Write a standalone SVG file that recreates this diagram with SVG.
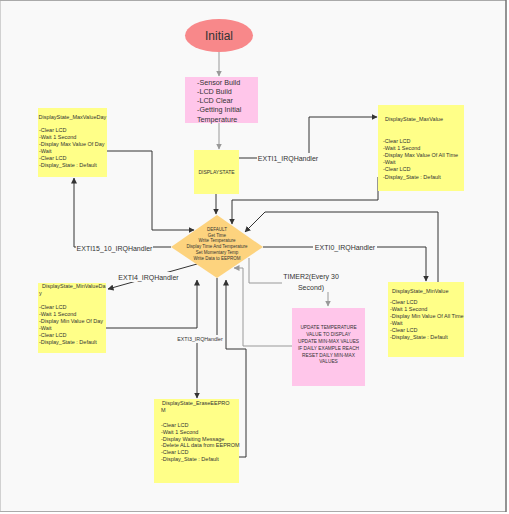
<svg xmlns="http://www.w3.org/2000/svg" width="509" height="514" viewBox="0 0 509 514">
<style>
text{font-family:"Liberation Sans",Arial,sans-serif;fill:#333}
.c{fill:none;stroke:#333;stroke-width:1}
.g{fill:none;stroke:#999;stroke-width:1}
.y{fill:#ffff88}
.p{fill:#ffc6ea}
.bt{font-size:5.5px}
.lb{font-size:7px;fill:#333}
.bg{fill:#f9f9f9}
</style>
<defs>
<marker id="a" markerUnits="userSpaceOnUse" markerWidth="6" markerHeight="6" refX="5.5" refY="3" orient="auto"><path d="M0,0 L6,3 L0,6 z" fill="#333"/></marker>
<marker id="ag" markerUnits="userSpaceOnUse" markerWidth="6" markerHeight="6" refX="5.5" refY="3" orient="auto"><path d="M0,0 L6,3 L0,6 z" fill="#999"/></marker>
</defs>
<rect x="0" y="0.5" width="506" height="511" fill="#f9f9f9" stroke="#aaa"/>
<line x1="506" y1="0" x2="506" y2="512" stroke="#555"/>

<g id="connectors">
<path class="g" d="M219,52 V76" marker-end="url(#ag)"/>
<path class="g" d="M219,123 V149" marker-end="url(#ag)"/>
<path class="c" d="M216,194 V214" marker-end="url(#a)"/>
<path class="c" d="M239,158 H309 V117 H377" marker-end="url(#a)"/>
<path class="c" d="M378,177 V200 H232 V224" marker-end="url(#a)"/>
<path class="c" d="M438,282 V212 H265 L245,232" marker-end="url(#a)"/>
<path class="c" d="M263,247 H426 V281" marker-end="url(#a)"/>
<path class="c" d="M107,151 H152 V230 H194" marker-end="url(#a)"/>
<path class="c" d="M171,247 H74 V178" marker-end="url(#a)"/>
<path class="c" d="M197,264 L108,289" marker-end="url(#a)"/>
<path class="c" d="M106,328 H197 V280" marker-end="url(#a)"/>
<path class="c" d="M217,278 V339 H197 V398" marker-end="url(#a)"/>
<path class="c" d="M239,457 H246 V349 H226 V280" marker-end="url(#a)"/>
<path class="g" d="M249,258 V283 H282"/>
<path class="g" d="M328,292 V306" marker-end="url(#ag)"/>
<path class="g" d="M292,346 H243 V268 H234" marker-end="url(#ag)"/>
<rect class="bg" x="257" y="153" width="62" height="10"/>
<text class="lb" x="288" y="160.5" text-anchor="middle">EXTI1_IRQHandler</text>
<rect class="bg" x="313" y="242" width="64" height="10"/>
<text class="lb" x="345" y="249.5" text-anchor="middle">EXTI0_IRQHandler</text>
<rect class="bg" x="76" y="243" width="77" height="10"/>
<text class="lb" x="114.5" y="250.5" text-anchor="middle">EXTI15_10_IRQHandler</text>
<rect class="bg" x="118" y="272" width="61" height="10"/>
<text class="lb" x="148.5" y="279.5" text-anchor="middle">EXTI4_IRQHandler</text>
<rect class="bg" x="177" y="335" width="47" height="8"/>
<text x="200" y="341" font-size="5.3" text-anchor="middle">EXTI3_IRQHandler</text>
<text class="lb" x="311" y="278.5" text-anchor="middle">TIMER2(Every 30</text>
<text class="lb" x="311" y="289.5" text-anchor="middle">Second)</text>
</g>

<g id="initial">
<ellipse cx="219" cy="35.5" rx="34" ry="16.5" fill="#f8888a"/>
<text x="219" y="40" font-size="12" text-anchor="middle" fill="#222">Initial</text>
</g>

<g id="setup">
<rect class="p" x="185" y="77" width="73" height="46"/>
<text x="197" y="84.5" font-size="7.2">-Sensor Build</text>
<text x="197" y="93.5" font-size="7.2">-LCD Build</text>
<text x="197" y="102.5" font-size="7.2">-LCD Clear</text>
<text x="197" y="112" font-size="7.2">-Getting Initial</text>
<text x="197" y="121.5" font-size="7.2">Temperature</text>
</g>

<g id="displaystate">
<rect class="y" x="194" y="150" width="45" height="44"/>
<text x="216.5" y="174" font-size="5" text-anchor="middle">DISPLAYSTATE</text>
</g>

<g id="default">
<path d="M217,215 L263,247 L217,278 L171,247 z" fill="#fdd37e"/>
<g font-size="4.5" text-anchor="middle">
<text x="217" y="230.5">DEFAULT</text>
<text x="217" y="236.5">Get Time</text>
<text x="217" y="242.3">Write Temperature</text>
<text x="217" y="248.2">Display Time And Temperature</text>
<text x="217" y="253.8">Set Momentary Temp</text>
<text x="217" y="259.6">Write Data to EEPROM</text>
</g>
</g>

<g id="maxvalueday">
<rect class="y" x="38" y="108" width="69" height="69"/>
<g class="bt">
<text x="38.5" y="119">DisplayState_MaxValueDay</text>
<text x="39" y="132">-Clear LCD</text>
<text x="39" y="139">-Wait 1 Second</text>
<text x="39" y="146">-Display Max Value Of Day</text>
<text x="39" y="153">-Wait</text>
<text x="39" y="160">-Clear LCD</text>
<text x="39" y="167">-Display_State : Default</text>
</g>
</g>

<g id="maxvalue">
<rect class="y" x="378" y="105" width="86" height="86"/>
<g class="bt">
<text x="385" y="121">DisplayState_MaxValue</text>
<text x="383" y="143">-Clear LCD</text>
<text x="383" y="150">-Wait 1 Second</text>
<text x="383" y="157">-Display Max Value Of All Time</text>
<text x="383" y="164">-Wait</text>
<text x="383" y="171">-Clear LCD</text>
<text x="383" y="179">-Display_State : Default</text>
</g>
</g>

<g id="minvalueday">
<rect class="y" x="38" y="283" width="68" height="70"/>
<g class="bt">
<text x="42" y="288">DisplayState_MinValueDa</text>
<text x="39" y="295">y</text>
<text x="39" y="309">-Clear LCD</text>
<text x="39" y="316">-Wait 1 Second</text>
<text x="39" y="323">-Display Min Value Of Day</text>
<text x="39" y="330">-Wait</text>
<text x="39" y="337">-Clear LCD</text>
<text x="39" y="344">-Display_State : Default</text>
</g>
</g>

<g id="minvalue">
<rect class="y" x="388" y="282" width="76" height="75"/>
<g class="bt">
<text x="392" y="293">DisplayState_MinValue</text>
<text x="390" y="304">-Clear LCD</text>
<text x="390" y="311">-Wait 1 Second</text>
<text x="390" y="318">-Display Min Value Of All Time</text>
<text x="390" y="325">-Wait</text>
<text x="390" y="332">-Clear LCD</text>
<text x="390" y="339">-Display_State : Default</text>
</g>
</g>

<g id="timer2update">
<rect class="p" x="292" y="308" width="73" height="78"/>
<g font-size="4.8" text-anchor="middle">
<text x="328.5" y="329">UPDATE TEMPERATURE</text>
<text x="328.5" y="335.5">VALUE TO DISPLAY</text>
<text x="328.5" y="342.5">UPDATE MIN-MAX VALUES</text>
<text x="328.5" y="349.5">IF DAILY EXAMPLE REACH</text>
<text x="328.5" y="356.5">RESET DAILY MIN-MAX</text>
<text x="328.5" y="363">VALUES</text>
</g>
</g>

<g id="eraseeeprom">
<rect class="y" x="154" y="399" width="85" height="84"/>
<g class="bt">
<text x="162" y="405">DisplayState_EraseEEPRO</text>
<text x="161" y="412">M</text>
<text x="161" y="427">-Clear LCD</text>
<text x="161" y="433.5">-Wait 1 Second</text>
<text x="161" y="440.5">-Display Waiting Message</text>
<text x="161" y="447">-Delete ALL data from EEPROM</text>
<text x="161" y="454">-Clear LCD</text>
<text x="161" y="460.5">-Display_State : Default</text>
</g>
</g>
</svg>
